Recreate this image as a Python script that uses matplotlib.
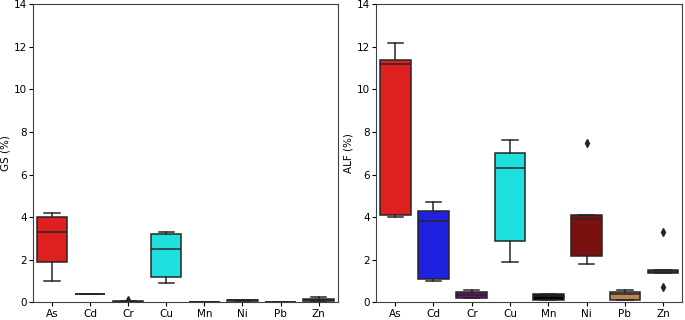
import matplotlib
matplotlib.use("Agg")
import matplotlib.pyplot as plt
import matplotlib.colors as mcolors
import colorsys

metals = ['As', 'Cd', 'Cr', 'Cu', 'Mn', 'Ni', 'Pb', 'Zn']
box_colors = ['red', 'blue', 'purple', 'cyan', 'black', 'darkred', 'peru', 'green']

# box statistics: (whislo, q1, med, q3, whishi, fliers)
gs_stats = [
    (1.0, 1.9, 3.3, 4.0, 4.2, []),
    (0.4, 0.4, 0.4, 0.4, 0.4, []),
    (0.02, 0.02, 0.04, 0.06, 0.06, [0.1]),
    (0.9, 1.2, 2.5, 3.2, 3.3, []),
    (0.02, 0.02, 0.02, 0.03, 0.03, []),
    (0.05, 0.06, 0.1, 0.13, 0.13, []),
    (0.0, 0.0, 0.0, 0.0, 0.0, []),
    (0.02, 0.05, 0.1, 0.15, 0.24, []),
]
alf_stats = [
    (4.0, 4.1, 11.2, 11.4, 12.2, []),
    (1.0, 1.1, 3.8, 4.3, 4.7, []),
    (0.2, 0.2, 0.35, 0.5, 0.6, []),
    (1.9, 2.9, 6.3, 7.0, 7.6, []),
    (0.1, 0.1, 0.3, 0.4, 0.4, []),
    (1.8, 2.2, 3.9, 4.1, 4.1, [7.5]),
    (0.1, 0.1, 0.4, 0.5, 0.6, []),
    (1.4, 1.4, 1.45, 1.5, 1.5, [3.3, 0.7]),
]


def desaturate(color, prop=0.75):
    # same as seaborn's default saturation for box faces
    r, g, b = mcolors.to_rgb(color)
    h, l, s = colorsys.rgb_to_hls(r, g, b)
    return colorsys.hls_to_rgb(h, l, s * prop)


def draw_boxes(ax, stats, ylabel):
    bxp_stats = []
    for name, (lo, q1, med, q3, hi, fl) in zip(metals, stats):
        bxp_stats.append(dict(label=name, whislo=lo, q1=q1, med=med,
                              q3=q3, whishi=hi, fliers=fl))
    edge = '0.15'
    res = ax.bxp(bxp_stats, widths=0.8, patch_artist=True,
                 boxprops=dict(edgecolor=edge, linewidth=1.1),
                 medianprops=dict(color=edge, linewidth=1.1),
                 whiskerprops=dict(color=edge, linewidth=1.1),
                 capprops=dict(color=edge, linewidth=1.1),
                 flierprops=dict(marker='d', markerfacecolor=edge,
                                 markeredgecolor=edge, markersize=4))
    for patch, c in zip(res['boxes'], box_colors):
        patch.set_facecolor(desaturate(c))
    for cap in res['caps']:
        x = cap.get_xdata()
        mid = (x[0] + x[1]) / 2
        cap.set_xdata([mid - 0.2, mid + 0.2])
    ax.set_ylim(0, 14)
    ax.set_xlim(0.5, 8.5)
    ax.set_ylabel(ylabel, fontsize=7.5, labelpad=2)
    ax.tick_params(labelsize=7.5, length=3, pad=1.5)
    for s in ax.spines.values():
        s.set_color('0.25')


fig = plt.figure(figsize=(6.85, 3.2), dpi=100)
ax1 = fig.add_axes([0.048, 0.055, 0.445, 0.932])
ax2 = fig.add_axes([0.549, 0.055, 0.447, 0.932])
draw_boxes(ax1, gs_stats, 'GS (%)')
draw_boxes(ax2, alf_stats, 'ALF (%)')

fig.savefig('out.png', dpi=100)
